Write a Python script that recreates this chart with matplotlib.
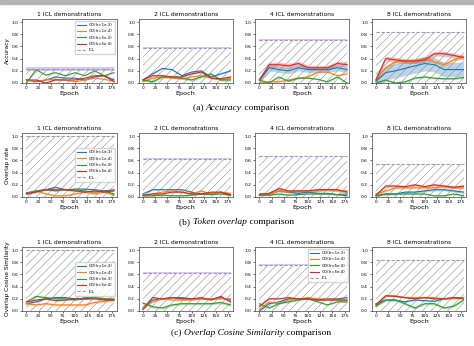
import matplotlib.pyplot as plt
from matplotlib.patches import Rectangle

epochs = [0, 20, 40, 60, 80, 100, 120, 140, 160, 180]
lr_labels = ['GD(lr=1e-3)', 'GD(lr=1e-4)', 'GD(lr=5e-3)', 'GD(lr=5e-4)']
demo_titles = ['1 ICL demonstrations', '2 ICL demonstrations',
               '4 ICL demonstrations', '8 ICL demonstrations']
colors = ['#1f77b4', '#ff7f0e', '#2ca02c', '#d62728']

# ---- accuracy (rows: lr 1e-3, 1e-4, 5e-3, 5e-4) ----
acc_1 = [[0.05, 0.02, 0.05, 0.10, 0.08, 0.08, 0.05, 0.10, 0.12, 0.05],
         [0.05, 0.03, 0.05, 0.06, 0.05, 0.02, 0.05, 0.08, 0.06, 0.03],
         [0.00, 0.22, 0.13, 0.17, 0.12, 0.17, 0.12, 0.20, 0.12, 0.17],
         [0.05, 0.05, 0.00, 0.05, 0.05, 0.05, 0.08, 0.12, 0.12, 0.02]]
acc_2 = [[0.05, 0.15, 0.24, 0.22, 0.12, 0.18, 0.20, 0.10, 0.15, 0.20],
         [0.02, 0.08, 0.10, 0.08, 0.07, 0.10, 0.12, 0.08, 0.05, 0.08],
         [0.05, 0.02, 0.10, 0.10, 0.08, 0.05, 0.10, 0.15, 0.05, 0.05],
         [0.05, 0.12, 0.12, 0.10, 0.10, 0.15, 0.18, 0.08, 0.07, 0.10]]
acc_4 = [[0.05, 0.25, 0.22, 0.20, 0.25, 0.22, 0.22, 0.22, 0.25, 0.22],
         [0.00, 0.02, 0.02, 0.05, 0.08, 0.10, 0.18, 0.18, 0.12, 0.15],
         [0.05, 0.00, 0.10, 0.03, 0.08, 0.08, 0.06, 0.02, 0.10, 0.00],
         [0.05, 0.30, 0.30, 0.28, 0.32, 0.25, 0.25, 0.25, 0.32, 0.30]]
acc_8 = [[0.03, 0.17, 0.20, 0.24, 0.28, 0.32, 0.30, 0.22, 0.22, 0.22],
         [0.05, 0.25, 0.35, 0.36, 0.35, 0.40, 0.35, 0.30, 0.38, 0.43],
         [0.00, 0.05, 0.00, 0.02, 0.08, 0.10, 0.08, 0.07, 0.07, 0.09],
         [0.05, 0.40, 0.38, 0.36, 0.36, 0.38, 0.48, 0.48, 0.45, 0.42]]
acc_band = [[0.005, 0.005, 0.005, 0.005], [0.01, 0.01, 0.02, 0.01],
            [0.05, 0.01, 0.01, 0.04], [0.12, 0.03, 0.015, 0.04]]
acc_icl = [0.23, 0.58, 0.71, 0.84]
acc_icl_band = [0.03, 0.004, 0.004, 0.004]

# ---- token overlap ----
ovl_1 = [[0.07, 0.10, 0.12, 0.16, 0.12, 0.13, 0.13, 0.12, 0.10, 0.12],
         [0.05, 0.10, 0.05, 0.02, 0.02, 0.05, 0.08, 0.05, 0.08, 0.03],
         [0.05, 0.10, 0.12, 0.10, 0.12, 0.12, 0.10, 0.08, 0.10, 0.05],
         [0.05, 0.08, 0.12, 0.12, 0.12, 0.10, 0.08, 0.10, 0.08, 0.10]]
ovl_2 = [[0.05, 0.12, 0.12, 0.12, 0.12, 0.08, 0.05, 0.05, 0.08, 0.05],
         [0.02, 0.05, 0.08, 0.10, 0.08, 0.05, 0.10, 0.05, 0.08, 0.06],
         [0.02, 0.02, 0.03, 0.02, 0.02, 0.03, 0.05, 0.04, 0.05, 0.03],
         [0.03, 0.05, 0.05, 0.08, 0.08, 0.05, 0.05, 0.08, 0.08, 0.03]]
ovl_4 = [[0.05, 0.05, 0.10, 0.08, 0.06, 0.08, 0.06, 0.06, 0.04, 0.05],
         [0.04, 0.05, 0.10, 0.08, 0.10, 0.10, 0.10, 0.12, 0.10, 0.10],
         [0.03, 0.03, 0.05, 0.03, 0.04, 0.05, 0.05, 0.05, 0.04, 0.02],
         [0.04, 0.06, 0.14, 0.10, 0.10, 0.10, 0.12, 0.12, 0.12, 0.08]]
ovl_8 = [[0.02, 0.05, 0.05, 0.08, 0.08, 0.10, 0.12, 0.12, 0.10, 0.08],
         [0.05, 0.10, 0.15, 0.15, 0.15, 0.15, 0.15, 0.17, 0.15, 0.15],
         [0.02, 0.05, 0.05, 0.05, 0.05, 0.05, 0.02, 0.02, 0.05, 0.02],
         [0.03, 0.18, 0.18, 0.17, 0.20, 0.17, 0.20, 0.18, 0.16, 0.18]]
ovl_band = [[0.01, 0.01, 0.01, 0.01], [0.01, 0.01, 0.01, 0.01],
            [0.01, 0.02, 0.01, 0.02], [0.02, 0.02, 0.01, 0.02]]
ovl_icl = [1.0, 0.63, 0.67, 0.54]
ovl_icl_band = [0.004, 0.004, 0.004, 0.004]

# ---- overlap cosine similarity ----
cos_1 = [[0.12, 0.15, 0.20, 0.22, 0.22, 0.20, 0.20, 0.22, 0.20, 0.18],
         [0.12, 0.10, 0.12, 0.10, 0.10, 0.10, 0.10, 0.14, 0.16, 0.18],
         [0.15, 0.24, 0.22, 0.20, 0.20, 0.18, 0.22, 0.22, 0.20, 0.20],
         [0.15, 0.18, 0.20, 0.17, 0.18, 0.20, 0.20, 0.20, 0.18, 0.18]]
cos_2 = [[0.05, 0.18, 0.20, 0.22, 0.22, 0.20, 0.20, 0.20, 0.22, 0.18],
         [0.05, 0.15, 0.20, 0.18, 0.18, 0.18, 0.20, 0.20, 0.20, 0.20],
         [0.13, 0.07, 0.05, 0.10, 0.12, 0.12, 0.12, 0.12, 0.14, 0.10],
         [0.02, 0.22, 0.20, 0.22, 0.20, 0.20, 0.22, 0.18, 0.24, 0.15]]
cos_4 = [[0.00, 0.12, 0.15, 0.20, 0.20, 0.20, 0.18, 0.20, 0.20, 0.22],
         [0.03, 0.15, 0.12, 0.18, 0.20, 0.22, 0.20, 0.20, 0.18, 0.18],
         [0.12, 0.05, 0.12, 0.15, 0.18, 0.20, 0.15, 0.10, 0.15, 0.15],
         [0.08, 0.20, 0.20, 0.22, 0.20, 0.20, 0.18, 0.18, 0.18, 0.18]]
cos_8 = [[0.12, 0.18, 0.18, 0.15, 0.18, 0.17, 0.16, 0.20, 0.22, 0.22],
         [0.10, 0.25, 0.25, 0.22, 0.22, 0.22, 0.22, 0.20, 0.20, 0.22],
         [0.08, 0.18, 0.18, 0.12, 0.05, 0.12, 0.12, 0.05, 0.08, 0.18],
         [0.10, 0.25, 0.24, 0.22, 0.20, 0.22, 0.20, 0.20, 0.22, 0.20]]
cos_band = [[0.01, 0.02, 0.01, 0.01], [0.01, 0.01, 0.02, 0.01],
            [0.01, 0.01, 0.01, 0.01], [0.01, 0.01, 0.02, 0.01]]
cos_icl = [1.0, 0.63, 0.76, 0.84]
cos_icl_band = [0.004, 0.004, 0.004, 0.004]

rows = [
    ([acc_1, acc_2, acc_4, acc_8], acc_band, acc_icl, acc_icl_band, 'Accuracy'),
    ([ovl_1, ovl_2, ovl_4, ovl_8], ovl_band, ovl_icl, ovl_icl_band, 'Overlap rate'),
    ([cos_1, cos_2, cos_4, cos_8], cos_band, cos_icl, cos_icl_band, 'Overlap Cosine Similarity'),
]
captions = [('(a) ', 'Accuracy', ' comparison'),
            ('(b) ', 'Token overlap', ' comparison'),
            ('(c) ', 'Overlap Cosine Similarity', ' comparison')]

# legend placement: (row, col) -> loc
legend_at = {(0, 0): 'upper right', (1, 0): 'center right',
             (2, 0): 'center right', (2, 2): 'upper right'}

plt.rcParams['hatch.linewidth'] = 0.45
W, H = 474, 346
fig = plt.figure(figsize=(W / 100, H / 100), dpi=100)

# grey strip at top of the page
fig.patches.append(Rectangle((0, 1 - 3.5 / H), 1, 3.5 / H, transform=fig.transFigure,
                             color='#b5b5b5', zorder=0))

row_tops = [19, 133, 247]
col_lefts = [22, 138.5, 255, 371.5]
ax_w, ax_h = 94.5, 64

for r, (panels, bands, icl, icl_band, ylab) in enumerate(rows):
    for c in range(4):
        ax = fig.add_axes([col_lefts[c] / W, 1 - (row_tops[r] + ax_h) / H, ax_w / W, ax_h / H])
        data = panels[c]
        for k in range(4):
            y = data[k]
            lo = [v - bands[c][k] for v in y]
            hi = [v + bands[c][k] for v in y]
            ax.fill_between(epochs, lo, hi, color=colors[k], alpha=0.3, linewidth=0)
            ax.plot(epochs, y, color=colors[k], lw=0.8, label=lr_labels[k])
        # ICL reference: hatched area + dashed line
        ax.fill_between([epochs[0], epochs[-1]], [0, 0], [icl[c], icl[c]],
                        facecolor='none', edgecolor='#9a9a9a', hatch='////', linewidth=0)
        ax.fill_between([epochs[0], epochs[-1]], [icl[c] - icl_band[c]] * 2,
                        [icl[c] + icl_band[c]] * 2, color='#9467bd', alpha=0.35, linewidth=0)
        ax.plot([epochs[0], epochs[-1]], [icl[c], icl[c]], color='#a48ed8', lw=0.8,
                ls=(0, (3, 1.5)), label='ICL')

        ax.set_xlim(-9, 185)
        ax.set_ylim(0, 1.05)
        ax.set_xticks([0, 25, 50, 75, 100, 125, 150, 175])
        ax.set_yticks([0.0, 0.2, 0.4, 0.6, 0.8, 1.0])
        ax.tick_params(labelsize=3.2, length=1.5, width=0.4, pad=1)
        for s in ax.spines.values():
            s.set_linewidth(0.5)
            s.set_color('#444444')
        ax.set_title(demo_titles[c], fontsize=4.3, pad=2)
        ax.set_xlabel('Epoch', fontsize=4.6, labelpad=0.5)
        if c == 0:
            ax.set_ylabel(ylab, fontsize=4.2, labelpad=1.5)
        if (r, c) in legend_at:
            ax.legend(loc=legend_at[(r, c)], fontsize=2.8, handlelength=2.3,
                      borderpad=0.5, labelspacing=0.6, framealpha=0.8,
                      edgecolor='#cccccc', fancybox=True)

# captions (serif, with italic middle part)
cap_y = [108, 222, 333]
cap_x = [241, 237, 251]
for (pre, mid, post), yy, xx in zip(captions, cap_y, cap_x):
    fs = 6.8
    t = fig.text(xx / W, 1 - yy / H, pre + mid + post, fontsize=fs, family='Liberation Serif',
                 ha='center', va='center', alpha=0)
    fig.canvas.draw()
    bb = t.get_window_extent()
    x0 = bb.x0
    t1 = fig.text(x0 / W, 1 - yy / H, pre, fontsize=fs, family='Liberation Serif',
                  ha='left', va='center')
    fig.canvas.draw()
    x1 = t1.get_window_extent().x1
    t2 = fig.text(x1 / W, 1 - yy / H, mid, fontsize=fs, family='Liberation Serif',
                  style='italic', ha='left', va='center')
    fig.canvas.draw()
    x2 = t2.get_window_extent().x1
    fig.text(x2 / W, 1 - yy / H, post, fontsize=fs, family='Liberation Serif',
             ha='left', va='center')

fig.savefig('out.png', dpi=100)
